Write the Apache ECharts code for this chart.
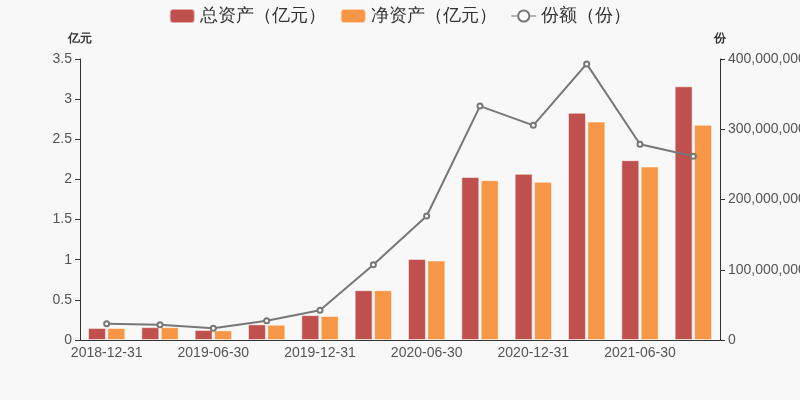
<!DOCTYPE html>
<html>
<head>
<meta charset="utf-8">
<script src="https://cdn.jsdelivr.net/npm/echarts@6/dist/echarts.min.js"></script>
<style>
  html, body { margin: 0; padding: 0; background: #f8f8f8; }
  #main { width: 800px; height: 400px; }
</style>
</head>
<body>
<div id="main"></div>
<script>
var dates = ['2018-12-31', '2019-03-31', '2019-06-30', '2019-09-30', '2019-12-31', '2020-03-31',
             '2020-06-30', '2020-09-30', '2020-12-31', '2021-03-31', '2021-06-30', '2021-09-30'];
var totalAssets = [0.15, 0.16, 0.125, 0.195, 0.31, 0.62, 1.01, 2.03, 2.07, 2.83, 2.24, 3.16];
var netAssets = [0.15, 0.16, 0.12, 0.19, 0.30, 0.62, 0.99, 1.99, 1.97, 2.72, 2.16, 2.68];
var shares = [23200000, 21800000, 16600000, 27500000, 42300000, 107000000,
              176500000, 333000000, 305600000, 393000000, 278600000, 261500000];

window.onload = function () {
    var chartDom = document.getElementById('main');
    var myChart = echarts.init(chartDom);
    var option;

    option = {
        backgroundColor: '#f8f8f8',
        textStyle: {
            fontFamily: 'sans-serif'
        },
        legend: {
            top: 2,
            itemWidth: 25,
            itemHeight: 14,
            itemGap: 14,
            textStyle: { fontSize: 17.5, color: '#333' },
            data: [
                { name: '总资产（亿元）', icon: 'roundRect' },
                { name: '净资产（亿元）', icon: 'roundRect' },
                { name: '份额（份）', itemStyle: { borderWidth: 1 }, lineStyle: { width: 1 } }
            ]
        },
        grid: {
            left: 80,
            right: 80,
            top: 59,
            bottom: 60,
            outerBoundsMode: 'none',
            containLabel: false
        },
        xAxis: {
            type: 'category',
            data: dates,
            axisLine: { lineStyle: { color: '#333' } },
            axisTick: { interval: 1, lineStyle: { color: '#333' } },
            axisLabel: { interval: 1, fontSize: 14, color: '#555', margin: 6 }
        },
        yAxis: [
            {
                type: 'value',
                name: '亿元',
                nameGap: 14,
                nameTextStyle: { fontSize: 12, fontWeight: 'bold', color: '#333' },
                min: 0,
                max: 3.5,
                interval: 0.5,
                splitLine: { show: false },
                axisLine: { show: true, lineStyle: { color: '#333' } },
                axisTick: { show: true },
                axisLabel: { fontSize: 14, color: '#555' }
            },
            {
                type: 'value',
                name: '份',
                nameGap: 14,
                nameTextStyle: { fontSize: 12, fontWeight: 'bold', color: '#333' },
                min: 0,
                max: 400000000,
                interval: 100000000,
                splitLine: { show: false },
                axisLine: { show: true, lineStyle: { color: '#333' } },
                axisTick: { show: true },
                axisLabel: {
                    fontSize: 14,
                    color: '#555',
                    formatter: function (v) { return v.toLocaleString('en-US'); }
                }
            }
        ],
        series: [
            {
                name: '总资产（亿元）',
                type: 'bar',
                barGap: '8%',
                barCategoryGap: '30%',
                itemStyle: { color: '#c0504d', borderColor: 'rgba(255,255,255,0.5)', borderWidth: 1 },
                data: totalAssets
            },
            {
                name: '净资产（亿元）',
                type: 'bar',
                itemStyle: { color: '#f79646', borderColor: 'rgba(255,255,255,0.5)', borderWidth: 1 },
                data: netAssets
            },
            {
                name: '份额（份）',
                type: 'line',
                yAxisIndex: 1,
                symbol: 'emptyCircle',
                symbolSize: 5,
                lineStyle: { color: '#777', width: 2 },
                itemStyle: { color: '#777', borderWidth: 1 },
                data: shares
            }
        ]
    };

    myChart.setOption(option);
};
</script>
</body>
</html>
